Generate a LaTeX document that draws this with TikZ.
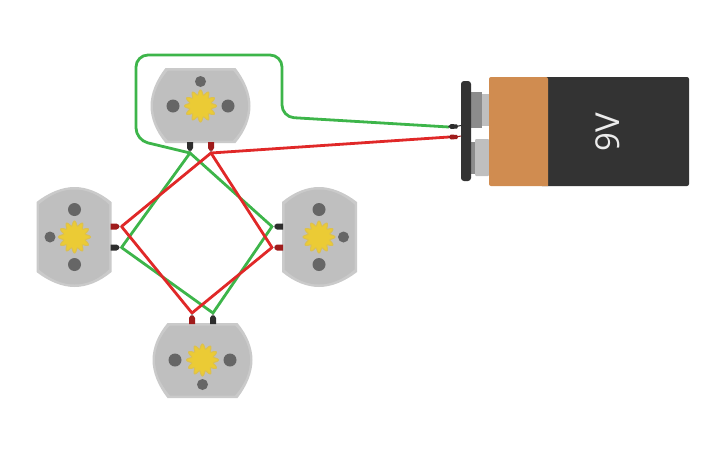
\documentclass[tikz,border=0pt]{standalone}
\usepackage{fontspec}
\setsansfont{Open Sans}
\definecolor{rimgrey}{HTML}{CACACA}
\definecolor{bodygrey}{HTML}{BFBFBF}
\definecolor{holegrey}{HTML}{666666}
\definecolor{gearyellow}{HTML}{EBCB35}
\definecolor{gearedge}{HTML}{DCC050}
\definecolor{wiregreen}{HTML}{3DB54A}
\definecolor{wirered}{HTML}{E02828}
\definecolor{tipblack}{HTML}{2E2E2E}
\definecolor{tipred}{HTML}{A01C1C}
\definecolor{batdark}{HTML}{333333}
\definecolor{batorange}{HTML}{D08C50}
\tikzset{
  greenwire/.style={draw=wiregreen,line width=2.8pt,line join=round},
  redwire/.style={draw=wirered,line width=2.8pt,line join=round},
  pin/.style={draw=gray!80,line width=1.6pt},
  motor/.pic={
    % body
    \fill[rimgrey] (-35,-38) -- (35,-38) .. controls (45,-25) and (50,-12) .. (50,0)
      .. controls (50,12) and (45,25) .. (35,37) -- (-35,37)
      .. controls (-45,25) and (-50,12) .. (-50,0)
      .. controls (-50,-12) and (-45,-25) .. (-35,-38) -- cycle;
    \fill[bodygrey] (-32.5,-35.5) -- (32.5,-35.5) .. controls (42.5,-24) and (47.5,-12) .. (47.5,0)
      .. controls (47.5,12) and (42.5,24) .. (32.5,34.5) -- (-32.5,34.5)
      .. controls (-42.5,24) and (-47.5,12) .. (-47.5,0)
      .. controls (-47.5,-12) and (-42.5,-24) .. (-32.5,-35.5) -- cycle;
    % holes
    \fill[holegrey] (-27.5,0) circle (6.5);
    \fill[holegrey] (27.5,0) circle (6.5);
    \fill[holegrey] (0,-24.5) circle (5.5);
    % gear
    \draw[draw=gearedge,fill=gearyellow,line width=1pt] plot[domain=0:360,samples=145,smooth]
      (\x:{13.6+2.4*cos(12*\x)}) -- cycle;
    % terminals
    \draw[pin] (-10.5,43) -- (-10.5,47);
    \draw[pin] (10.5,43) -- (10.5,47);
    \fill[tipblack] (-13.5,36) -- (-7.5,36) -- (-7.5,42) -- (-9,44.5) -- (-12,44.5) -- (-13.5,42) -- cycle;
    \fill[tipred] (7.5,36) -- (13.5,36) -- (13.5,42) -- (12,44.5) -- (9,44.5) -- (7.5,42) -- cycle;
    \coordinate (-blk) at (-10.5,47);
    \coordinate (-red) at (10.5,47);
  }
}
\begin{document}
\begin{tikzpicture}[x=1pt,y=-1pt]
  \useasboundingbox (0,0) rectangle (725,453);
  % motors
  \pic (mtop) at (200.5,106) {motor};
  \pic[rotate=90] (mleft) at (74.5,237) {motor};
  \pic[rotate=-90] (mright) at (319,237) {motor};
  \pic[rotate=180] (mbot) at (202.5,360) {motor};
  % battery clip
  \fill[gray!90] (471,92) rectangle (482,128);
  \fill[bodygrey] (482,94) rectangle (489,126);
  \fill[gray!90] (471,142) rectangle (475,174);
  \fill[bodygrey,rounded corners=1] (475,139) rectangle (489,176);
  \fill[batdark,rounded corners=3] (461,81) rectangle (471,181);
  % battery
  \fill[batdark,rounded corners=2] (540,77) rectangle (689,186);
  \fill[batorange,rounded corners=2] (489,77) -- (548,77) [sharp corners] -- (548,186) [rounded corners=2] -- (489,186) -- cycle;
  \node[rotate=90,text=gray!15,font=\sffamily\fontsize{33}{33}\selectfont,inner sep=0pt] (vlabel) at (607.5,132) {9V};
  % leads
  \draw[draw=tipblack,line width=1pt] (456,126.5) -- (461,125.5);
  \draw[draw=tipred,line width=1pt] (456,137) -- (461,136);
  \coordinate (batblk) at (449,127);
  \coordinate (batred) at (449,137);
  % green wires
  \draw[greenwire,rounded corners=12] (mtop-blk) -- (136,140) -- (136,55) -- (282,55) -- (282,117) -- (batblk);
  \draw[greenwire] (mleft-blk) -- (mtop-blk) -- (mright-blk) -- (mbot-blk) -- cycle;
  % red wires
  \draw[redwire] (mtop-red) -- (batred);
  \draw[redwire] (mleft-red) -- (mtop-red) -- (mright-red) -- (mbot-red) -- cycle;
  % lead tips
  \fill[tipblack] (448,126.5) -- (451,124) -- (457,124.5) -- (458,126.5) -- (457,128.5) -- (451,129) -- cycle;
  \fill[tipred] (448,137) -- (451,134.5) -- (457,135) -- (458,137) -- (457,139) -- (451,139.5) -- cycle;
\end{tikzpicture}
\end{document}
